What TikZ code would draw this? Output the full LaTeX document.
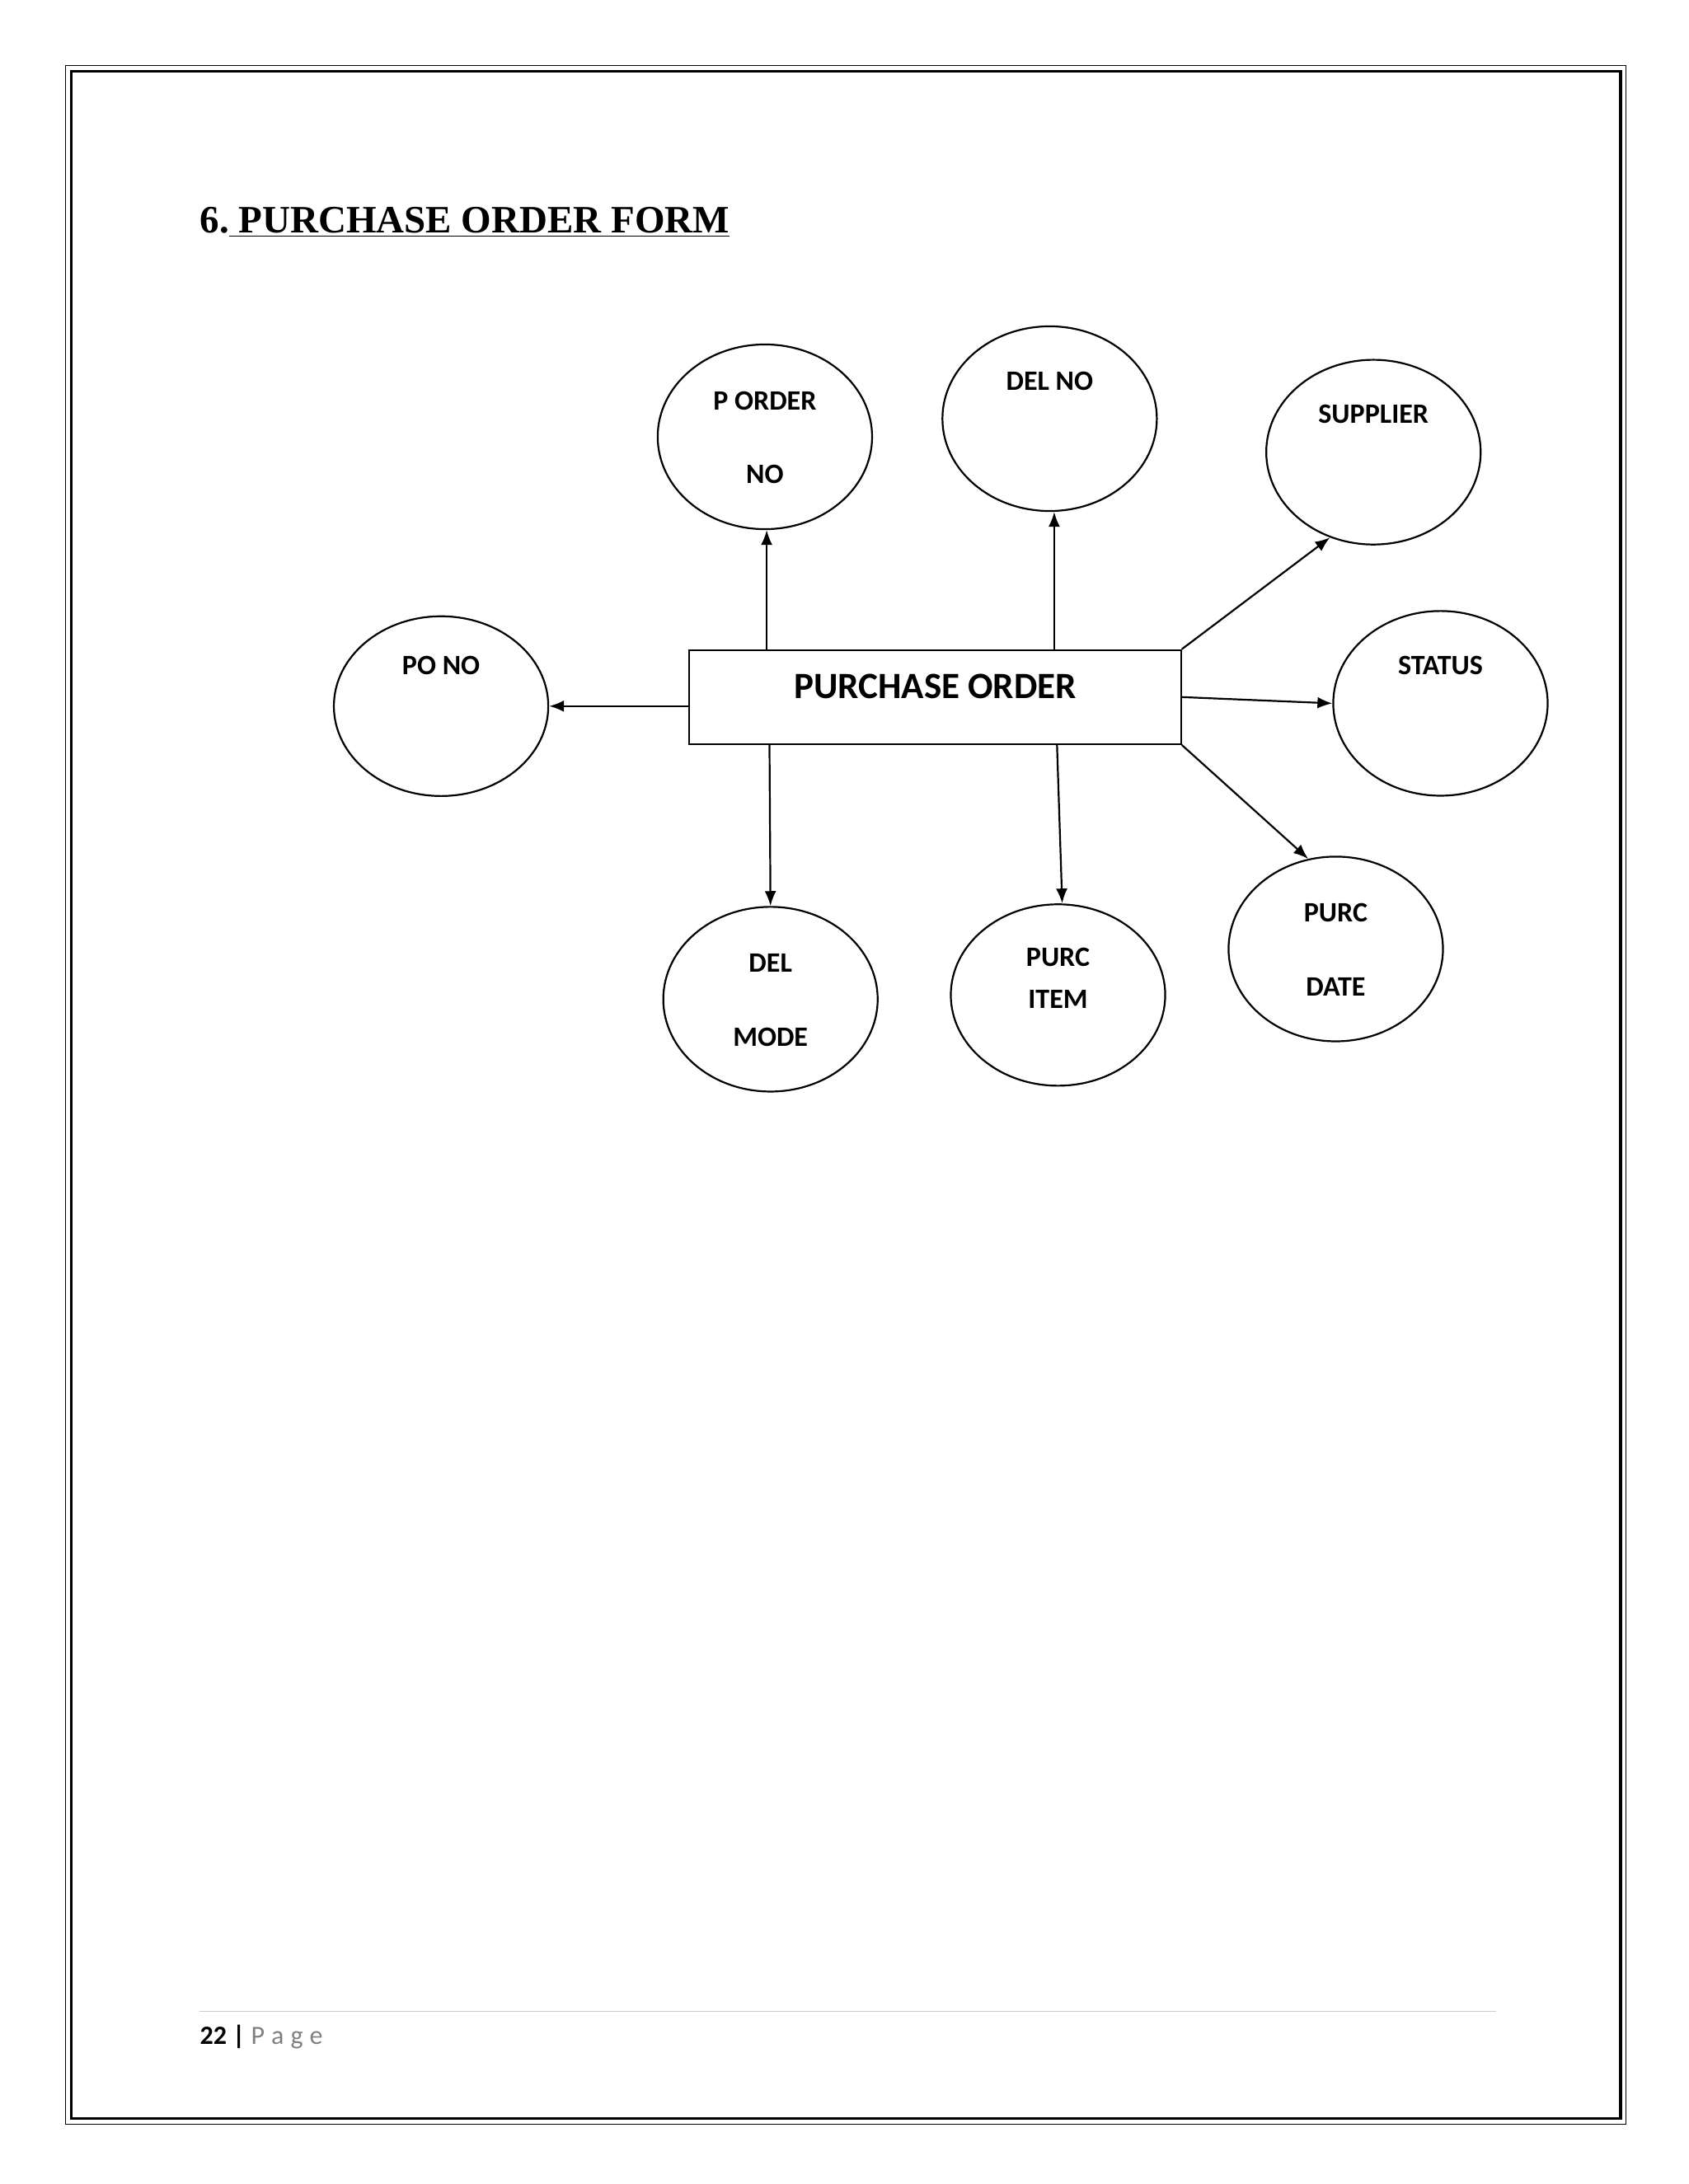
\documentclass[tikz,border=0pt]{standalone}
\usepackage{fontspec}
\setmainfont{Carlito}
\newfontfamily\titlefont{Liberation Serif}
\usetikzlibrary{shapes.geometric,arrows.meta,calc}
\tikzset{
 attr/.style={draw,ellipse,line width=1.1pt,minimum width=130pt,minimum height=112pt},
 lab/.style={font=\fontsize{17}{17}\selectfont\bfseries,align=center},
 conn/.style={line width=1.1pt,-{Latex[length=9pt,width=7pt]}}
}
\begin{document}
\begin{tikzpicture}[x=0.8463pt,y=-0.8463pt]
\useasboundingbox (0,0) rectangle (1210,1565);
\draw[line width=0.6pt] (47,47) rectangle (1165,1522);
\draw[line width=1.6pt] (51,51) rectangle (1161,1518);
\node[anchor=base west,font=\titlefont\fontsize{23.5}{23.5}\selectfont\bfseries,inner sep=0pt] (title) at (143,167) {6.\underline{ PURCHASE ORDER FORM}};
% ellipses
\node[attr] (porder) at (548,313) {};
\node[attr] (delno) at (752,300) {};
\node[attr] (supplier) at (984,324) {};
\node[attr,minimum height=109pt] (pono) at (316,506) {};
\node[attr] (status) at (1032,504) {};
\node[attr] (purcdate) at (957,680) {};
\node[attr] (delmode) at (552,716) {};
\node[attr,minimum height=110pt] (purcitem) at (758,713) {};
% labels
\node[lab] (l1) at (548,287) {P ORDER};
\node[lab] (l2) at (548,340) {NO};
\node[lab] (l3) at (752,273) {DEL NO};
\node[lab] (l4) at (984,297) {SUPPLIER};
\node[lab] (l5) at (316,477) {PO NO};
\node[lab] (l6) at (1032,477) {STATUS};
\node[lab] (l7) at (957,654) {PURC};
\node[lab] (l8) at (957,707) {DATE};
\node[lab] (l9) at (552,690) {DEL};
\node[lab] (l10) at (552,743) {MODE};
\node[lab] (l11) at (758,686) {PURC};
\node[lab] (l12) at (758,716) {ITEM};
% box
\node[draw,line width=1.1pt,minimum width=298pt,minimum height=57pt] (box) at (670,499.5) {};
\node[font=\fontsize{22.5}{22.5}\selectfont\bfseries] (boxlab) at (670,492) {PURCHASE ORDER};
% connectors
\coordinate (a1) at ($(box.north west)+(56,0)$);
\coordinate (a2) at ($(box.north west)+(262,0)$);
\coordinate (a3) at ($(box.south west)+(58,0)$);
\coordinate (a4) at ($(box.south west)+(264,0)$);
\draw[conn] (a1) -- (a1 |- porder.south);
\draw[conn] (a2) -- (a2 |- delno.south);
\draw[conn] (box.north east) -- (supplier.243);
\draw[conn] (box.west |- pono.east) -- (pono.east);
\draw[conn] (box.east) -- (status.west);
\draw[conn] (box.south east) -- (purcdate.107);
\draw[conn] (a3) -- (delmode.north);
\draw[conn] (a4) -- ($(purcitem.north)+(3,0)$);
% footer
\draw[line width=0.5pt,gray!40] (143,1441) coordinate (fa) -- (1072,1441) coordinate (fb);
\node[anchor=base west,inner sep=0pt,font=\fontsize{16}{16}\selectfont] (foot) at (143,1465) {\textbf{22 |} \textcolor{gray}{P\hspace{4pt}a\hspace{4pt}g\hspace{4pt}e}};
\end{tikzpicture}
\end{document}
